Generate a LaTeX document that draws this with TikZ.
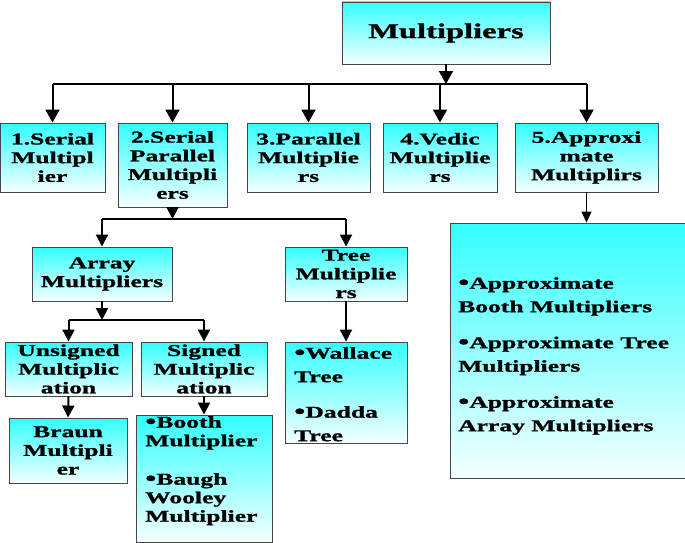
\documentclass[tikz,border=0pt]{standalone}
\usepackage{fontspec}
\setmainfont[FakeStretch=1.55, BoldFeatures={FakeBold=1.2}]{Liberation Serif}
\usetikzlibrary{arrows.meta}
\definecolor{cy}{RGB}{51,255,255}
\definecolor{cyw}{RGB}{245,255,255}
\definecolor{edge}{RGB}{70,70,70}
\newcommand{\bul}{\raisebox{-0.5pt}{\scalebox{1.25}{•}}}
\begin{document}
\begin{tikzpicture}[x=1pt,y=1pt,
  box/.style={draw=edge, line width=0.9pt, top color=cy, bottom color=cyw,
    inner sep=0pt, align=center, font=\fontsize{16.5}{18.7}\selectfont\bfseries},
  listtext/.style={inner sep=0pt, align=left, anchor=north west},
  conn/.style={line width=2pt, -{Triangle[length=12pt,width=12pt]}},
  bigconn/.style={line width=2pt, -{Triangle[length=13pt,width=14pt]}},
  thinconn/.style={line width=1pt, -{Triangle[length=11pt,width=10pt]}},
  wire/.style={line width=2pt}]
\useasboundingbox (0,0) rectangle (685,-543);
\clip (0,0) rectangle (685,-543);
\fill[white] (0,0) rectangle (685,-543);

% level 0
\node[box, minimum width=208pt, minimum height=62pt, font=\fontsize{21}{24}\selectfont\bfseries] (top) at (446,-33) {Multipliers};

% level 1
\node[box, minimum width=105pt, minimum height=69pt] (s1) at (52.5,-157.5) {1.Serial\\Multipl\\ier};
\node[box, minimum width=109pt, minimum height=84pt] (s2) at (172.5,-165) {2.Serial\\Parallel\\Multipli\\ers};
\node[box, minimum width=123pt, minimum height=69pt] (s3) at (308.5,-157.5) {3.Parallel\\Multiplie\\rs};
\node[box, minimum width=114pt, minimum height=69pt] (s4) at (440,-157.5) {4.Vedic\\Multiplie\\rs};
\node[box, minimum width=143pt, minimum height=69pt] (s5) at (586.5,-157.5) {5.Approxi\\mate\\Multiplirs};

% level 2
\node[box, minimum width=140pt, minimum height=54pt] (array) at (102,-274) {Array\\Multipliers};
\node[box, minimum width=122pt, minimum height=54pt] (tree) at (346,-274) {Tree\\Multiplie\\rs};

% level 3
\node[box, minimum width=127pt, minimum height=54pt] (uns) at (68.5,-369) {Unsigned\\Multiplic\\ation};
\node[box, minimum width=126pt, minimum height=54pt] (sig) at (204,-369) {Signed\\Multiplic\\ation};
\node[box, minimum width=122pt, minimum height=101pt] (wal) at (346,-392.5) {};
\node[listtext, font=\fontsize{16.5}{23.5}\selectfont\bfseries] (waltext) at (294,-347) {\bul Wallace\\Tree\\[12pt]\bul Dadda\\Tree};

% level 4
\node[box, minimum width=118pt, minimum height=65pt] (braun) at (68,-450.5) {Braun\\Multipli\\er};
\node[box, minimum width=136pt, minimum height=127pt] (booth) at (204,-478.5) {};
\node[listtext, font=\fontsize{16.5}{18.5}\selectfont\bfseries] (boothtext) at (145,-416) {\bul Booth\\Multiplier\\[20pt]\bul Baugh\\Wooley\\Multiplier};

% approximate box
\node[box, minimum width=260pt, minimum height=255pt] (ap) at (580,-350.5) {};
\node[listtext, font=\fontsize{16.5}{23.5}\selectfont\bfseries] (aptext) at (458,-277) {\bul Approximate\\Booth Multipliers\\[12.5pt]\bul Approximate Tree\\Multipliers\\[12.5pt]\bul Approximate\\Array Multipliers};

% connectors level 0 -> 1
\coordinate (bus1) at (446,-84);
\draw[bigconn] (top.south) -- (bus1);
\draw[wire] (s1.north |- bus1) -- (s5.north |- bus1);
\foreach \n in {s1,s2,s3,s4,s5}
  \draw[bigconn] (\n.north |- bus1) -- (\n.north);

% level 1 -> 2
\coordinate (bus2) at (172.5,-219);
\draw[conn] (s2.south) -- (bus2);
\draw[wire] (array.north |- bus2) -- (tree.north |- bus2);
\draw[conn] (array.north |- bus2) -- (array.north);
\draw[conn] (tree.north |- bus2) -- (tree.north);

% level 2 -> 3
\coordinate (bus3) at (102,-320);
\draw[conn] (array.south) -- (bus3);
\draw[wire] (uns.north |- bus3) -- (sig.north |- bus3);
\draw[conn] (uns.north |- bus3) -- (uns.north);
\draw[conn] (sig.north |- bus3) -- (sig.north);
\draw[conn] (tree.south) -- (wal.north);

% level 3 -> 4
\draw[conn] (uns.south) -- (braun.north);
\draw[conn] (sig.south) -- (booth.north);
\draw[thinconn] (s5.south) -- (s5.south |- ap.north);
\end{tikzpicture}
\end{document}
